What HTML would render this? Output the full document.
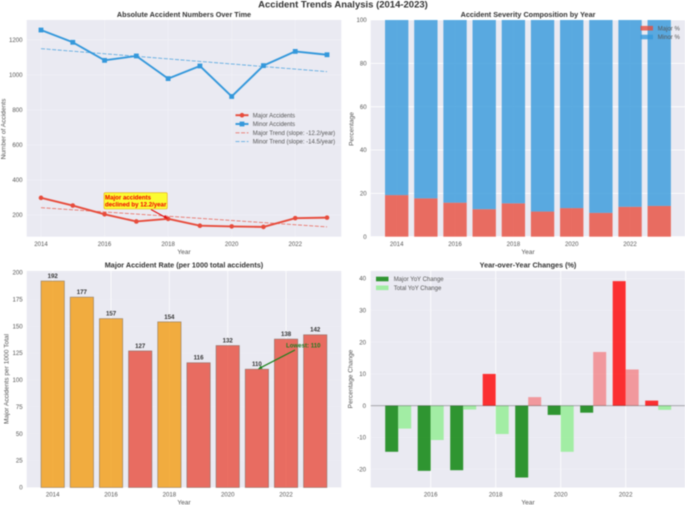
<!DOCTYPE html>
<html lang="en">
<head>
<meta charset="utf-8">
<title>Accident Trends Analysis (2014-2023)</title>
<style>
html,body{margin:0;padding:0;background:#fff;width:685px;height:505px;overflow:hidden}
svg{display:block;filter:blur(.4px)}
text{font-family:"Liberation Sans",Arial,sans-serif}
.tick{font-size:6.1px;fill:#555}
.lab{font-size:6.6px;fill:#555;text-anchor:middle}
.sub{font-size:7.25px;font-weight:bold;fill:#333;text-anchor:middle}
.leg{font-size:6px;fill:#555}
</style>
</head>
<body>
<svg id="fig" xmlns="http://www.w3.org/2000/svg" width="685" height="505" viewBox="0 0 685 505">
  <text x="343" y="4" dy=".35em" text-anchor="middle" font-size="9.5" font-weight="bold" fill="#333">Accident Trends Analysis (2014-2023)</text>

  <rect x="26.7" y="20" width="314.6" height="216.7" fill="#eaeaf2"/>
  <rect x="370.7" y="20" width="314.3" height="216.7" fill="#eaeaf2"/>
  <rect x="26.7" y="271" width="314.6" height="216.5" fill="#eaeaf2"/>
  <rect x="370.7" y="271" width="314.3" height="216.5" fill="#eaeaf2"/>

  <g id="c1"></g>
  <g id="c2"></g>
  <g id="c3"></g>
  <g id="c4"></g>

  <text class="sub" x="184" y="14.3" dy=".35em">Absolute Accident Numbers Over Time</text>
  <text class="sub" x="528" y="14.3" dy=".35em">Accident Severity Composition by Year</text>
  <text class="sub" x="184" y="265" dy=".35em">Major Accident Rate (per 1000 total accidents)</text>
  <text class="sub" x="528" y="265" dy=".35em">Year-over-Year Changes (%)</text>

  <text class="lab" x="184" y="251.7" dy=".35em">Year</text>
  <text class="lab" x="528" y="251.7" dy=".35em">Year</text>
  <text class="lab" x="184" y="502" dy=".35em">Year</text>
  <text class="lab" x="528" y="502" dy=".35em">Year</text>

  <text class="lab" transform="translate(3 129) rotate(-90)" dy=".35em">Number of Accidents</text>
  <text class="lab" transform="translate(351 129) rotate(-90)" dy=".35em">Percentage</text>
  <text class="lab" transform="translate(6.3 379) rotate(-90)" dy=".35em">Major Accidents per 1000 Total</text>
  <text class="lab" transform="translate(350.3 379) rotate(-90)" dy=".35em">Percentage Change</text>
</svg>
<script>
// ---- data ----
const years = [2014,2015,2016,2017,2018,2019,2020,2021,2022,2023];
const majorAccidents = [298,254,204,163,178,139,135,132,182,185];
const minorAccidents = [1255,1185,1082,1107,978,1050,876,1052,1133,1114];
const majorShare = [19.2,17.7,15.7,12.7,15.4,11.6,13.2,11.0,13.8,14.2];
const minorShare = [80.8,82.3,84.3,87.3,84.6,88.4,86.8,89.0,86.2,85.8];
const majorRate = [192,177,157,127,154,116,132,110,138,142];
const yoyYears = [2015,2016,2017,2018,2019,2020,2021,2022,2023];
const majorYoY = [-14.5,-20.5,-20.3,10,-22.6,-2.9,-2.2,39.2,1.6];
const totalYoY = [-7.2,-10.8,-1.2,-8.9,2.7,-14.5,16.9,11.4,-1.3];
const evenYearTicks = [2014,2016,2018,2020,2022];
const yoyYearTicks = [2016,2018,2020,2022];
const countTicks = [200,400,600,800,1000,1200];
const shareTicks = [0,20,40,60,80,100];
const rateTicks = [0,25,50,75,100,125,150,175,200];
const yoyTicks = [-20,-10,0,10,20,30,40];

// ---- axis functions ----
const x1 = y => 41 + (y - 2014) * 31.78;
const y1 = v => 215 - (v - 200) * 0.17533;
const x2 = y => 396.7 + (y - 2014) * 29.17;
const y2 = v => 236.7 - v * 2.167;
const x3 = y => 52.7 + (y - 2014) * 29.17;
const y3 = v => 487.5 - v * 1.0755;
const x4 = y => 430.7 + (y - 2016) * 32.5;
const y4 = v => 405.7 - v * 3.178;

const NS = 'http://www.w3.org/2000/svg';
function mk(parent, tag, props, txt) {
  const el = document.createElementNS(NS, tag);
  for (const k in props) el.setAttribute(k, props[k]);
  if (txt !== undefined) el.textContent = txt;
  parent.appendChild(el);
  return el;
}
function fit(xs, ys) {
  const n = xs.length, mx = xs.reduce((a,b)=>a+b)/n, my = ys.reduce((a,b)=>a+b)/n;
  let sxy = 0, sxx = 0;
  xs.forEach((x,i)=>{ sxy += (x-mx)*(ys[i]-my); sxx += (x-mx)*(x-mx); });
  const m = sxy/sxx;
  return x => my + m*(x-mx);
}
function axes(g, xs, ys, fx, fy, top, bottom, left, right, xLabelY, yLabelX, gx, gy, prefix) {
  xs.forEach(t => {
    const gl = mk(g, 'line', {x1:fx(t), x2:fx(t), y1:top, y2:bottom, stroke:'#fff', 'stroke-width':.8, 'stroke-opacity':gx});
    
    
    const lb = mk(g, 'text', {class:'tick', x:fx(t), y:xLabelY, dy:'.35em', 'text-anchor':'middle'}, t);
    
    
  });
  ys.forEach(t => {
    const gl = mk(g, 'line', {x1:left, x2:right, y1:fy(t), y2:fy(t), stroke:'#fff', 'stroke-width':.8, 'stroke-opacity':gy});
    
    
    const lb = mk(g, 'text', {class:'tick', x:yLabelX, y:fy(t), dy:'.35em', 'text-anchor':'end'}, t);
    
    
  });
}

// ---- chart 1: lines ----
const c1 = document.getElementById('c1');
axes(c1, evenYearTicks, countTicks, x1, y1, 20, 236.7, 26.7, 341.3, 243.7, 22.5, .3, .3, 'line-chart');
function series(g, values, color, shape, name) {
  const pts = years.map((y,i)=>x1(y)+','+y1(values[i])).join(' ');
  const pl = mk(g, 'polyline', {points:pts, fill:'none', stroke:color, 'stroke-width':1.9, 'stroke-linejoin':'round'});
  
  
  years.forEach((y,i)=>{
    const m = shape === 'circle'
      ? mk(g, 'circle', {cx:x1(y), cy:y1(values[i]), r:2.3, fill:color})
      : mk(g, 'rect', {x:x1(y)-2.4, y:y1(values[i])-2.4, width:4.8, height:4.8, fill:color});
    
    
  });
}
function trend(g, values, color, name) {
  const f = fit(years, values);
  const first = years[0], last = years[years.length-1];
  const t = mk(g, 'line', {x1:x1(first), x2:x1(last), y1:y1(f(first)), y2:y1(f(last)), stroke:color, 'stroke-width':.9, 'stroke-opacity':.75, 'stroke-dasharray':'4 1.6'});
  
  
}
series(c1, majorAccidents, '#e74c3c', 'circle', 'major-accidents');
series(c1, minorAccidents, '#3498db', 'square', 'minor-accidents');
trend(c1, majorAccidents, '#e74c3c', 'major-trend-line');
trend(c1, minorAccidents, '#3498db', 'minor-trend-line');

const legend1 = [
  ['Major Accidents','#e74c3c','circle'],
  ['Minor Accidents','#3498db','square'],
  ['Major Trend (slope: -12.2/year)','#e74c3c','dash'],
  ['Minor Trend (slope: -14.5/year)','#3498db','dash']
];
legend1.forEach((row,i)=>{
  const ly = 115.2 + i*8.8;
  const ln = row[2] === 'dash'
    ? mk(c1, 'line', {x1:235.5, x2:248.5, y1:ly, y2:ly, stroke:row[1], 'stroke-width':.9, 'stroke-opacity':.75, 'stroke-dasharray':'4 1.6'})
    : mk(c1, 'line', {x1:235.5, x2:248.5, y1:ly, y2:ly, stroke:row[1], 'stroke-width':1.9});
  
  
  if (row[2] === 'circle') {
    const mc = mk(c1, 'circle', {cx:242, cy:ly, r:2.3, fill:row[1]});
    
    
  }
  if (row[2] === 'square') {
    const mr = mk(c1, 'rect', {x:239.6, y:ly-2.4, width:4.8, height:4.8, fill:row[1]});
    
    
  }
  const tx = mk(c1, 'text', {class:'leg', x:252.8, y:ly, dy:'.35em'}, row[0]);
  
  
});

const noteTipY = y1(majorAccidents[years.indexOf(2018)]);
const noteTipX = x1(2018);
const noteArrow = mk(c1, 'line', {x1:151, y1:209.5, x2:noteTipX - 2.5, y2:noteTipY - 1.4, stroke:'#e01010', 'stroke-width':1.1});


const noteHead = mk(c1, 'polygon', {points:`${noteTipX},${noteTipY} ${noteTipX-4.4},${noteTipY-1} ${noteTipX-2.8},${noteTipY-3.8}`, fill:'#e01010'});


const noteBox = mk(c1, 'rect', {x:104, y:192.7, width:63.3, height:16.3, rx:1.2, fill:'#ffff00', 'fill-opacity':.8, stroke:'#e6a817', 'stroke-width':.6});


const noteA = mk(c1, 'text', {x:105, y:197.5, dy:'.35em', 'font-size':6.1, 'font-weight':'bold', fill:'#f00000'}, 'Major accidents');


const noteB = mk(c1, 'text', {x:105, y:204.4, dy:'.35em', 'font-size':6.1, 'font-weight':'bold', fill:'#f00000'}, 'declined by 12.2/year');



// ---- chart 2: stacked composition ----
const c2 = document.getElementById('c2');
axes(c2, evenYearTicks, shareTicks, x2, y2, 20, 236.7, 370.7, 685, 243.7, 366.7, .8, 1, 'composition-chart');
years.forEach((y,i)=>{
  const a = mk(c2, 'rect', {x:x2(y)-11.67, y:y2(majorShare[i]), width:23.34, height:y2(0)-y2(majorShare[i]), fill:'#e74c3c', 'fill-opacity':.8});
  
  
  const b = mk(c2, 'rect', {x:x2(y)-11.67, y:y2(majorShare[i]+minorShare[i]), width:23.34, height:y2(majorShare[i])-y2(majorShare[i]+minorShare[i]), fill:'#3498db', 'fill-opacity':.8});
  
  
});
const legend2 = [['Major %','#e74c3c'],['Minor %','#3498db']];
legend2.forEach((row,i)=>{
  const ly = 28.2 + i*8.8;
  const p = mk(c2, 'rect', {x:640.5, y:ly-2.3, width:12.5, height:4.6, fill:row[1], 'fill-opacity':.8});
  
  
  const t = mk(c2, 'text', {class:'leg', x:657.8, y:ly, dy:'.35em'}, row[0]);
  
  
});

// ---- chart 3: rate bars ----
const c3 = document.getElementById('c3');
axes(c3, evenYearTicks, rateTicks, x3, y3, 271, 487.5, 26.7, 341.3, 494.3, 22.7, .9, .15, 'rate-chart');
years.forEach((y,i)=>{
  const v = majorRate[i];
  const b = mk(c3, 'rect', {x:x3(y)-11.67, y:y3(v), width:23.34, height:y3(0)-y3(v), fill:v >= 150 ? '#f39c12' : '#e74c3c', 'fill-opacity':.8, stroke:'#6b5b50', 'stroke-opacity':.6, 'stroke-width':.7});
  
  
  const t = mk(c3, 'text', {x:x3(y), y:y3(v)-5.2, dy:'.35em', 'text-anchor':'middle', 'font-size':6.1, 'font-weight':'bold', fill:'#333'}, v);
  
  
});
const lowest = Math.min(...majorRate);
const lowestYear = years[majorRate.indexOf(lowest)];
const lowTipX = x3(lowestYear) + 1;
const lowTipY = y3(lowest);
const lowArrow = mk(c3, 'line', {x1:295, y1:350, x2:lowTipX + 3, y2:lowTipY - 1.6, stroke:'#1a801a', 'stroke-width':1.2});


const lowHead = mk(c3, 'polygon', {points:`${lowTipX},${lowTipY} ${lowTipX+3},${lowTipY-3.6} ${lowTipX+4.6},${lowTipY-0.6}`, fill:'#1a801a'});


const lowText = mk(c3, 'text', {x:286, y:345.6, dy:'.35em', 'font-size':6.1, 'font-weight':'bold', fill:'#1f7a1f'}, 'Lowest: ' + lowest);



// ---- chart 4: year-over-year bars ----
const c4 = document.getElementById('c4');
axes(c4, yoyYearTicks, yoyTicks, x4, y4, 271, 487.5, 370.7, 685, 494.3, 366, 1, .3, 'yoy-chart');
yoyYears.forEach((y,i)=>{
  const m = majorYoY[i], t = totalYoY[i];
  const a = mk(c4, 'rect', {x:x4(y)-13, y:Math.min(y4(m),y4(0)), width:13, height:Math.abs(y4(m)-y4(0)), fill:m < 0 ? '#008000' : '#ff0000', 'fill-opacity':.8});
  
  
  const b = mk(c4, 'rect', {x:x4(y), y:Math.min(y4(t),y4(0)), width:13, height:Math.abs(y4(t)-y4(0)), fill:t < 0 ? '#90ee90' : '#ff0000', 'fill-opacity':t < 0 ? .8 : .35});
  
  
});
const zero = mk(c4, 'line', {x1:370.7, x2:685, y1:y4(0), y2:y4(0), stroke:'#000', 'stroke-opacity':.35, 'stroke-width':.8});


const legend4 = [['Major YoY Change','#008000'],['Total YoY Change','#90ee90']];
legend4.forEach((row,i)=>{
  const ly = 279 + i*8.8;
  const p = mk(c4, 'rect', {x:376, y:ly-2.3, width:12.5, height:4.6, fill:row[1], 'fill-opacity':.8});
  
  
  const t = mk(c4, 'text', {class:'leg', x:393.7, y:ly, dy:'.35em'}, row[0]);
  
  
});
</script>
</body>
</html>
